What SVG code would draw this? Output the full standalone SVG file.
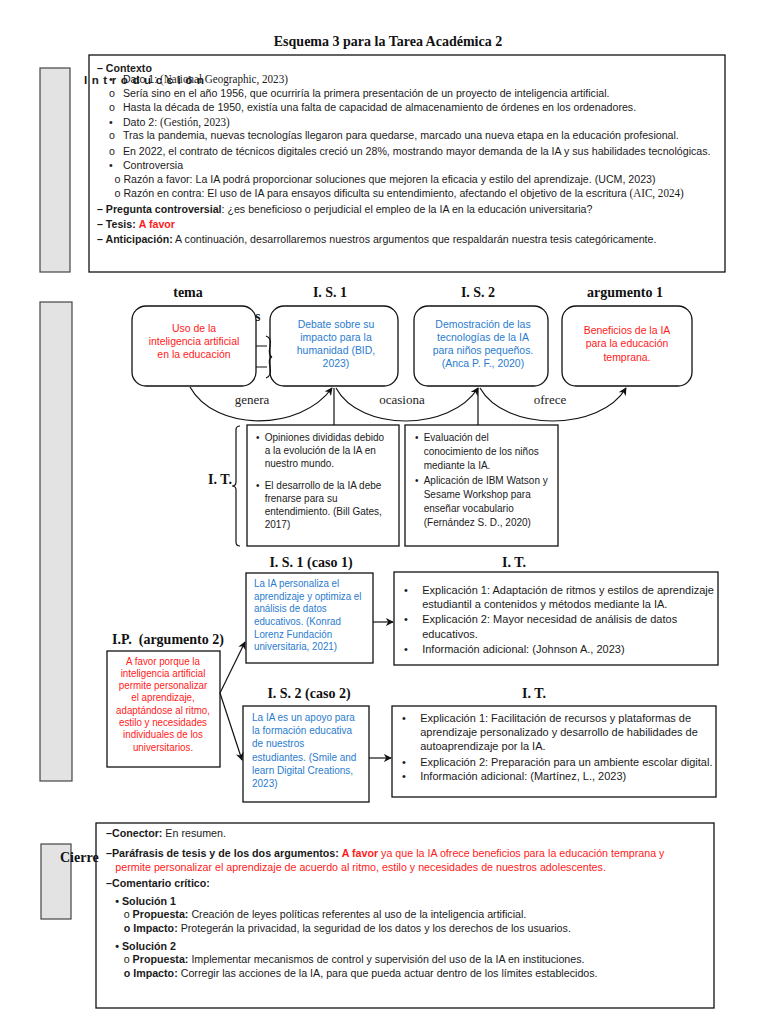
<svg xmlns="http://www.w3.org/2000/svg" width="768" height="1024" viewBox="0 0 768 1024">
<defs>
<style>
.t{font-family:"Liberation Sans",Arial,sans-serif;font-size:11.5px;fill:#1a1a1a}
.bd{font-weight:bold}
.sf{font-family:"Liberation Serif","Times New Roman",serif}
.h{font-family:"Liberation Serif","Times New Roman",serif;font-size:14px;font-weight:bold;fill:#111}
.lab{font-family:"Liberation Serif","Times New Roman",serif;font-size:13px;fill:#222}
.red{fill:#ff1a1a}
.blue{fill:#2a7ccf}
.box{fill:#fff;stroke:#111;stroke-width:1.3}
.bar{fill:#e3e3e3;stroke:#444;stroke-width:1.2}
.ln{fill:none;stroke:#111;stroke-width:1.2}
.mid{text-anchor:middle}
</style>
<marker id="ah" viewBox="0 0 10 10" refX="9" refY="5" markerWidth="8" markerHeight="8" orient="auto-start-reverse" markerUnits="userSpaceOnUse">
<path d="M0,0 L10,5 L0,10 L3,5 z" fill="#111"/>
</marker>
</defs>
<rect width="768" height="1024" fill="#fff"/>

<text class="h mid" x="388" y="46" font-size="15">Esquema 3 para la Tarea Académica 2</text>

<!-- Intro -->
<g id="intro">
<rect class="bar" x="40" y="68" width="30" height="204"/>
<rect class="box" x="89" y="55" width="636" height="217"/>
<g transform="matrix(0.925 0 0 1 7.275 0)">
<text class="t" x="97" y="72"><tspan class="bd">–  Contexto</tspan></text>
<text class="t" x="110" y="83">•</text>
<text class="t" x="125" y="83">Dato 1: <tspan class="sf" font-size="12">(National Geographic, 2023)</tspan></text>
<text class="t" x="110" y="97">o</text>
<text class="t" x="125" y="97">Sería sino en el año 1956, que ocurriría la primera presentación de un proyecto de inteligencia artificial.</text>
<text class="t" x="110" y="111">o</text>
<text class="t" x="125" y="111">Hasta la década de 1950, existía una falta de capacidad de almacenamiento de órdenes en los ordenadores.</text>
<text class="t" x="110" y="126">•</text>
<text class="t" x="125" y="126">Dato 2: <tspan class="sf" font-size="12">(Gestión, 2023)</tspan></text>
<text class="t" x="110" y="139">o</text>
<text class="t" x="125" y="139">Tras la pandemia, nuevas tecnologías llegaron para quedarse, marcado una nueva etapa en la educación profesional.</text>
<text class="t" x="110" y="155">o</text>
<text class="t" x="125" y="155">En 2022, el contrato de técnicos digitales creció un 28%, mostrando mayor demanda de la IA y sus habilidades tecnológicas.</text>
<text class="t" x="110" y="169">•</text>
<text class="t" x="125" y="169">Controversia</text>
<text class="t" x="116" y="183">o Razón a favor: La IA podrá proporcionar soluciones que mejoren la eficacia y estilo del aprendizaje. (UCM, 2023)</text>
<text class="t" x="116" y="197">o Razón en contra: El uso de IA para ensayos dificulta su entendimiento, afectando el objetivo de la escritura <tspan class="sf" font-size="12">(AIC, 2024)</tspan></text>
<text class="t" x="97" y="213"><tspan class="bd">–  Pregunta controversial</tspan>: ¿es beneficioso o perjudicial el empleo de la IA en la educación universitaria?</text>
<text class="t" x="97" y="228"><tspan class="bd">–  Tesis: </tspan><tspan class="bd red">A favor</tspan></text>
<text class="t" x="97" y="243"><tspan class="bd">–  Anticipación:</tspan> A continuación, desarrollaremos nuestros argumentos que respaldarán nuestra tesis categóricamente.</text>
</g>
<text class="t bd" x="84" y="84" font-size="13" textLength="120" lengthAdjust="spacing">Introducción</text>
</g>

<!-- Middle bar -->
<g id="desarrollo-bar">
<rect class="bar" x="40" y="302" width="32" height="479"/>
</g>

<!-- headings -->
<text class="h mid" x="188" y="297">tema</text>
<text class="h mid" x="330" y="297">I. S. 1</text>
<text class="h mid" x="478" y="297">I. S. 2</text>
<text class="h mid" x="625" y="297">argumento 1</text>
<text class="h" x="255" y="321" font-size="13">s</text>

<g id="tema">
<rect class="box" x="132" y="306" width="124" height="80" rx="14"/>
<g transform="matrix(0.91 0 0 1 17.46 0)">
<text class="t red mid" x="194" y="332">Uso de la</text>
<text class="t red mid" x="194" y="345">inteligencia artificial</text>
<text class="t red mid" x="194" y="358">en la educación</text>
</g>
</g>
<g id="is1">
<rect class="box" x="270" y="306" width="128" height="80" rx="14"/>
<g transform="matrix(0.91 0 0 1 30.24 0)">
<text class="t blue mid" x="336" y="328">Debate sobre su</text>
<text class="t blue mid" x="336" y="341">impacto para la</text>
<text class="t blue mid" x="336" y="354">humanidad (BID,</text>
<text class="t blue mid" x="336" y="367">2023)</text>
</g>
</g>
<g id="is2">
<rect class="box" x="414" y="306" width="134" height="80" rx="14"/>
<g transform="matrix(0.91 0 0 1 43.47 0)">
<text class="t blue mid" x="483" y="328">Demostración de las</text>
<text class="t blue mid" x="483" y="341">tecnologías de la IA</text>
<text class="t blue mid" x="483" y="354">para niños pequeños.</text>
<text class="t blue mid" x="483" y="367">(Anca P. F., 2020)</text>
</g>
</g>
<g id="arg1">
<rect class="box" x="562" y="306" width="130" height="80" rx="14"/>
<g transform="matrix(0.91 0 0 1 56.43 0)">
<text class="t red mid" x="627" y="334">Beneficios de la IA</text>
<text class="t red mid" x="627" y="347">para la educación</text>
<text class="t red mid" x="627" y="361">temprana.</text>
</g>
</g>

<g id="it-top-1">
<rect class="box" x="247" y="425" width="152" height="121"/>
<g transform="matrix(0.87 0 0 1 33.28 0)">
<text class="t" x="256" y="441">•</text>
<text class="t" x="266" y="441">Opiniones divididas debido</text>
<text class="t" x="266" y="454">a la evolución de la IA en</text>
<text class="t" x="266" y="467">nuestro mundo.</text>
<text class="t" x="256" y="489">•</text>
<text class="t" x="266" y="489">El desarrollo de la IA debe</text>
<text class="t" x="266" y="502">frenarse para su</text>
<text class="t" x="266" y="515">entendimiento. (Bill Gates,</text>
<text class="t" x="266" y="528">2017)</text>
</g>
</g>
<g id="it-top-2">
<rect class="box" x="405" y="425" width="153" height="121"/>
<g transform="matrix(0.87 0 0 1 53.95 0)">
<text class="t" x="415" y="441">•</text>
<text class="t" x="425" y="441"> Evaluación del</text>
<text class="t" x="425" y="455">conocimiento de los niños</text>
<text class="t" x="425" y="469">mediante la IA.</text>
<text class="t" x="415" y="484">•</text>
<text class="t" x="425" y="484">Aplicación de IBM Watson y</text>
<text class="t" x="425" y="498">Sesame Workshop para</text>
<text class="t" x="425" y="512">enseñar vocabulario</text>
<text class="t" x="425" y="526">(Fernández S. D., 2020)</text>
</g>
</g>
<text class="h" x="208" y="484" font-size="13">I. T.</text>

<!-- lower section -->
<text class="h mid" x="311" y="567" font-size="13">I. S. 1 (caso 1)</text>
<text class="h mid" x="514" y="567" font-size="13">I. T.</text>
<text class="h" x="112" y="644" font-size="13">I.P.&#160; (argumento 2)</text>
<text class="h mid" x="309" y="698" font-size="13">I. S. 2 (caso 2)</text>
<text class="h mid" x="534" y="698" font-size="13">I. T.</text>

<g id="is1-caso">
<rect class="box" x="246" y="573" width="127" height="90"/>
<g transform="matrix(0.85 0 0 1 38.1 0)">
<text class="t blue" x="254" y="587">  La IA personaliza el</text>
<text class="t blue" x="254" y="600">aprendizaje y optimiza el</text>
<text class="t blue" x="254" y="612">análisis de datos</text>
<text class="t blue" x="254" y="625">educativos. (Konrad</text>
<text class="t blue" x="254" y="638">Lorenz Fundación</text>
<text class="t blue" x="254" y="650">universitaria, 2021)</text>
</g>
</g>
<g id="it-caso1">
<rect class="box" x="394" y="572" width="324" height="93"/>
<g transform="matrix(0.957 0 0 1 17.37 0)">
<text class="t" x="404" y="594">•</text>
<text class="t" x="423" y="594">Explicación 1: Adaptación de ritmos y estilos de aprendizaje</text>
<text class="t" x="423" y="608">estudiantil a contenidos y métodos mediante la IA.</text>
<text class="t" x="404" y="623">•</text>
<text class="t" x="423" y="623">Explicación 2: Mayor necesidad de análisis de datos</text>
<text class="t" x="423" y="638">educativos.</text>
<text class="t" x="404" y="653">•</text>
<text class="t" x="423" y="653">Información adicional: (Johnson A., 2023)</text>
</g>
</g>
<g id="ip">
<rect class="box" x="107" y="651" width="113" height="116"/>
<g transform="matrix(0.85 0 0 1 24.45 0)">
<text class="t red mid" x="163" y="665">A favor porque la</text>
<text class="t red mid" x="163" y="677">inteligencia artificial</text>
<text class="t red mid" x="163" y="689">permite personalizar</text>
<text class="t red mid" x="163" y="701">el aprendizaje,</text>
<text class="t red mid" x="163" y="714">adaptándose al ritmo,</text>
<text class="t red mid" x="163" y="726">estilo y necesidades</text>
<text class="t red mid" x="163" y="738">individuales de los</text>
<text class="t red mid" x="163" y="751">universitarios.</text>
</g>
</g>
<g id="is2-caso">
<rect class="box" x="243" y="706" width="126" height="96"/>
<g transform="matrix(0.87 0 0 1 32.76 0)">
<text class="t blue" x="252" y="721">La IA es un apoyo para</text>
<text class="t blue" x="252" y="734">la formación educativa</text>
<text class="t blue" x="252" y="747">de nuestros</text>
<text class="t blue" x="252" y="761">estudiantes. (Smile and</text>
<text class="t blue" x="252" y="774">learn Digital Creations,</text>
<text class="t blue" x="252" y="787">2023)</text>
</g>
</g>
<g id="it-caso2">
<rect class="box" x="392" y="706" width="324" height="91"/>
<g transform="matrix(0.957 0 0 1 17.29 0)">
<text class="t" x="402" y="722">•</text>
<text class="t" x="421" y="722">Explicación 1: Facilitación de recursos y plataformas de</text>
<text class="t" x="421" y="736">aprendizaje personalizado y desarrollo de habilidades de</text>
<text class="t" x="421" y="750">autoaprendizaje por la IA.</text>
<text class="t" x="402" y="766">•</text>
<text class="t" x="421" y="766">Explicación 2: Preparación para un ambiente escolar digital.</text>
<text class="t" x="402" y="780">•</text>
<text class="t" x="421" y="780">Información adicional: (Martínez, L., 2023)</text>
</g>
</g>

<!-- Cierre -->
<g id="cierre">
<rect class="bar" x="41" y="844" width="30" height="75"/>
<rect class="box" x="96" y="823" width="618" height="185"/>
<g transform="matrix(0.93 0 0 1 7.42 0)">
<text class="t" x="106" y="837"><tspan class="bd">–Conector:</tspan> En resumen.</text>
<text class="t" x="106" y="857"><tspan class="bd">–Paráfrasis de tesis y de los dos argumentos: </tspan><tspan class="bd red">A favor</tspan><tspan class="red"> ya que la IA ofrece beneficios para la educación temprana y</tspan></text>
<text class="t red" x="116" y="871">permite personalizar el aprendizaje de acuerdo al ritmo, estilo y necesidades de nuestros adolescentes.</text>
<text class="t bd" x="106" y="887">–Comentario crítico:</text>
<text class="t bd" x="116" y="905">• Solución 1</text>
<text class="t" x="125" y="918">o <tspan class="bd">Propuesta:</tspan> Creación de leyes políticas referentes al uso de la inteligencia artificial.</text>
<text class="t" x="125" y="932"><tspan class="bd">o Impacto:</tspan> Protegerán la privacidad, la seguridad de los datos y los derechos de los usuarios.</text>
<text class="t bd" x="116" y="950">• Solución 2</text>
<text class="t" x="125" y="963">o <tspan class="bd">Propuesta:</tspan> Implementar mecanismos de control y supervisión del uso de la IA en instituciones.</text>
<text class="t" x="125" y="977"><tspan class="bd">o Impacto:</tspan> Corregir las acciones de la IA, para que pueda actuar dentro de los límites establecidos.</text>
</g>
<text class="h" x="60" y="862" font-size="14">Cierre</text>
</g>

<!-- connectors -->
<g id="connectors">
<path class="ln" d="M256,346 H267 M256,367 H267"/>
<path class="ln" d="M266,336 Q272,338 270,346 Q268,356 272,357 Q268,358 270,367 Q272,376 266,378"/>
<path class="ln" d="M190,387 C215,432 300,432 332,388" marker-end="url(#ah)"/>
<path class="ln" d="M336,388 C360,432 450,432 478,388" marker-end="url(#ah)"/>
<path class="ln" d="M480,388 C505,432 600,432 626,388" marker-end="url(#ah)"/>
<path class="ln" d="M334,388 V425 M478,388 V425"/>
<path class="ln" stroke="#555" d="M240,426 Q236,426 236,430 V482 Q236,486 232,486 Q236,486 236,490 V542 Q236,546 240,546"/>
<path class="ln" d="M373,622 H393" marker-end="url(#ah)"/>
<path class="ln" d="M369,758 H391" marker-end="url(#ah)"/>
<path class="ln" stroke-width="1.6" d="M220,693 L245,642" marker-end="url(#ah)"/>
<path class="ln" stroke-width="1.6" d="M220,693 L242,760" marker-end="url(#ah)"/>
<text class="lab" x="252" y="404" text-anchor="middle">genera</text>
<text class="lab" x="402" y="404" text-anchor="middle">ocasiona</text>
<text class="lab" x="550" y="404" text-anchor="middle">ofrece</text>
</g>
</svg>
